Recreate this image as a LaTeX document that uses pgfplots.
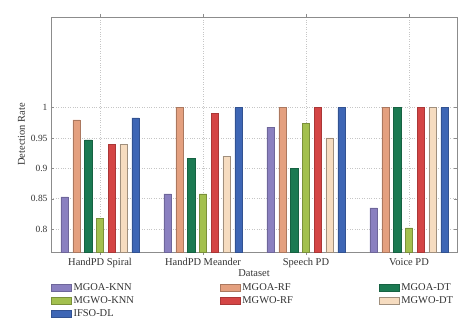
\documentclass[border=0pt]{standalone}
\usepackage{fontspec}
\setmainfont{Liberation Serif}
\usepackage{pgfplots}
\pgfplotsset{compat=1.18}
\definecolor{cA}{HTML}{8A80C0}
\definecolor{cB}{HTML}{E4A07F}
\definecolor{cC}{HTML}{1B7A52}
\definecolor{cD}{HTML}{A3C04E}
\definecolor{cE}{HTML}{D44545}
\definecolor{cF}{HTML}{F6DCC0}
\definecolor{cG}{HTML}{3E66B5}
\definecolor{axgray}{HTML}{8C8C8C}
\definecolor{txt}{HTML}{333333}
\begin{document}
\begin{tikzpicture}
\path[use as bounding box] (0,0) rectangle (474bp,-335bp);
\begin{axis}[
  at={(51bp,-252bp)}, anchor=south west,
  width=406bp, height=235bp, scale only axis,
  ybar=4.5bp, bar width=7.3bp,
  xmin=-0.476, xmax=3.466,
  ymin=0.7625, ymax=1.149,
  xtick={0,1,2,3},
  xticklabels={HandPD Spiral, HandPD Meander, Speech PD, Voice PD},
  ytick={0.8,0.85,0.9,0.95,1},
  yticklabels={0.8,0.85,0.9,0.95,1},
  /pgf/number format/assume math mode=true,
  xlabel={Dataset}, ylabel={Detection Rate},
  xlabel style={font=\fontsize{10.5}{12}\selectfont, yshift=5bp, text=txt},
  ylabel style={font=\fontsize{10.5}{12}\selectfont, yshift=-1bp, text=txt},
  xticklabel style={font=\fontsize{10.5}{12}\selectfont, text=txt},
  yticklabel style={font=\fontsize{9.5}{11}\selectfont, text=txt},
  axis line style={axgray},
  tick style={axgray, thin},
  major tick length=3bp,
  grid=major,
  major grid style={dotted, line width=0.7pt, gray!45},
  legend columns=3,
  legend cell align=left,
  legend style={at={(0,-0.125)}, anchor=north west, draw=none, inner sep=0pt,
    font=\fontsize{10.5}{12}\selectfont, text=txt,
    /tikz/every even column/.append style={column sep=84bp},
    row sep=0.5bp},
  legend image code/.code={\draw[#1] (0bp,-3.5bp) rectangle (20bp,3.5bp);},
]
\addplot[fill=cA, draw=cA!80!black] coordinates {(0,0.853) (1,0.858) (2,0.968) (3,0.835)};
\addplot[fill=cB, draw=cB!75!black] coordinates {(0,0.980) (1,1.000) (2,1.000) (3,1.000)};
\addplot[fill=cC, draw=cC!80!black] coordinates {(0,0.947) (1,0.917) (2,0.900) (3,1.000)};
\addplot[fill=cD, draw=cD!75!black] coordinates {(0,0.818) (1,0.858) (2,0.974) (3,0.802)};
\addplot[fill=cE, draw=cE!80!black] coordinates {(0,0.940) (1,0.991) (2,1.000) (3,1.000)};
\addplot[fill=cF, draw=cF!65!black] coordinates {(0,0.940) (1,0.920) (2,0.950) (3,1.000)};
\addplot[fill=cG, draw=cG!80!black] coordinates {(0,0.983) (1,1.000) (2,1.000) (3,1.000)};
\legend{MGOA-KNN, MGOA-RF, MGOA-DT, MGWO-KNN, MGWO-RF, MGWO-DT, IFSO-DL}
\end{axis}
\end{tikzpicture}
\end{document}
